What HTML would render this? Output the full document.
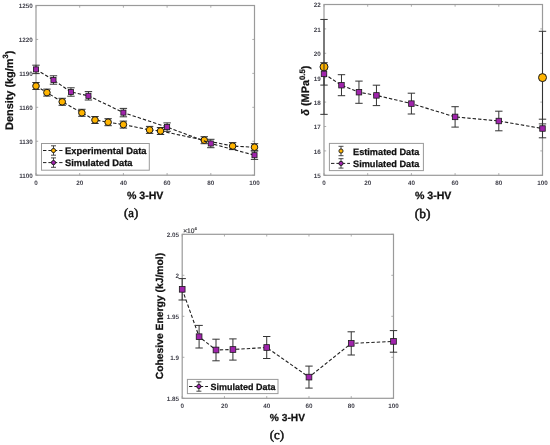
<!DOCTYPE html><html><head><meta charset="utf-8"><title>Figure</title><style>
html,body{margin:0;padding:0;background:#fff;}
svg{display:block;text-rendering:geometricPrecision;}
.tk{font-family:"Liberation Sans",Arial,sans-serif;font-size:6.3px;font-weight:bold;fill:#43434d;}
.lb{font-family:"Liberation Sans",Arial,sans-serif;font-weight:bold;font-size:10.6px;fill:#111;stroke:#111;stroke-width:0.25px;}
.lg{font-family:"Liberation Sans",Arial,sans-serif;font-weight:bold;fill:#111;stroke:#111;stroke-width:0.25px;}
.cap{font-family:"Liberation Serif","Times New Roman",serif;font-size:12.8px;fill:#111;stroke:#111;stroke-width:0.5px;}
</style></head><body>
<svg width="550" height="445" viewBox="0 0 550 445">
<rect width="550" height="445" fill="#fff"/>
<rect x="36" y="5.5" width="218.5" height="169.7" fill="none" stroke="#9a9a9a" stroke-width="1.2"/>
<line x1="36.00" y1="175.2" x2="36.00" y2="173.0" stroke="#9a9a9a" stroke-width="0.8"/>
<line x1="36.00" y1="5.5" x2="36.00" y2="7.7" stroke="#9a9a9a" stroke-width="0.8"/>
<text x="36.00" y="185.10" class="tk" text-anchor="middle">0</text>
<line x1="79.70" y1="175.2" x2="79.70" y2="173.0" stroke="#9a9a9a" stroke-width="0.8"/>
<line x1="79.70" y1="5.5" x2="79.70" y2="7.7" stroke="#9a9a9a" stroke-width="0.8"/>
<text x="79.70" y="185.10" class="tk" text-anchor="middle">20</text>
<line x1="123.40" y1="175.2" x2="123.40" y2="173.0" stroke="#9a9a9a" stroke-width="0.8"/>
<line x1="123.40" y1="5.5" x2="123.40" y2="7.7" stroke="#9a9a9a" stroke-width="0.8"/>
<text x="123.40" y="185.10" class="tk" text-anchor="middle">40</text>
<line x1="167.10" y1="175.2" x2="167.10" y2="173.0" stroke="#9a9a9a" stroke-width="0.8"/>
<line x1="167.10" y1="5.5" x2="167.10" y2="7.7" stroke="#9a9a9a" stroke-width="0.8"/>
<text x="167.10" y="185.10" class="tk" text-anchor="middle">60</text>
<line x1="210.80" y1="175.2" x2="210.80" y2="173.0" stroke="#9a9a9a" stroke-width="0.8"/>
<line x1="210.80" y1="5.5" x2="210.80" y2="7.7" stroke="#9a9a9a" stroke-width="0.8"/>
<text x="210.80" y="185.10" class="tk" text-anchor="middle">80</text>
<line x1="254.50" y1="175.2" x2="254.50" y2="173.0" stroke="#9a9a9a" stroke-width="0.8"/>
<line x1="254.50" y1="5.5" x2="254.50" y2="7.7" stroke="#9a9a9a" stroke-width="0.8"/>
<text x="254.50" y="185.10" class="tk" text-anchor="middle">100</text>
<line x1="36" y1="175.20" x2="38.2" y2="175.20" stroke="#9a9a9a" stroke-width="0.8"/>
<line x1="254.5" y1="175.20" x2="252.3" y2="175.20" stroke="#9a9a9a" stroke-width="0.8"/>
<text x="32.80" y="177.60" class="tk" text-anchor="end">1100</text>
<line x1="36" y1="141.26" x2="38.2" y2="141.26" stroke="#9a9a9a" stroke-width="0.8"/>
<line x1="254.5" y1="141.26" x2="252.3" y2="141.26" stroke="#9a9a9a" stroke-width="0.8"/>
<text x="32.80" y="143.66" class="tk" text-anchor="end">1130</text>
<line x1="36" y1="107.32" x2="38.2" y2="107.32" stroke="#9a9a9a" stroke-width="0.8"/>
<line x1="254.5" y1="107.32" x2="252.3" y2="107.32" stroke="#9a9a9a" stroke-width="0.8"/>
<text x="32.80" y="109.72" class="tk" text-anchor="end">1160</text>
<line x1="36" y1="73.38" x2="38.2" y2="73.38" stroke="#9a9a9a" stroke-width="0.8"/>
<line x1="254.5" y1="73.38" x2="252.3" y2="73.38" stroke="#9a9a9a" stroke-width="0.8"/>
<text x="32.80" y="75.78" class="tk" text-anchor="end">1190</text>
<line x1="36" y1="39.44" x2="38.2" y2="39.44" stroke="#9a9a9a" stroke-width="0.8"/>
<line x1="254.5" y1="39.44" x2="252.3" y2="39.44" stroke="#9a9a9a" stroke-width="0.8"/>
<text x="32.80" y="41.84" class="tk" text-anchor="end">1220</text>
<line x1="36" y1="5.50" x2="38.2" y2="5.50" stroke="#9a9a9a" stroke-width="0.8"/>
<line x1="254.5" y1="5.50" x2="252.3" y2="5.50" stroke="#9a9a9a" stroke-width="0.8"/>
<text x="32.80" y="7.90" class="tk" text-anchor="end">1250</text>
<path d="M36.00,86.00 L46.92,92.60 L62.22,101.80 L81.88,112.80 L95.00,120.00 L108.11,122.20 L123.40,124.60 L149.62,129.90 L160.54,131.00 L204.25,140.20 L232.65,146.10 L254.50,147.20" fill="none" stroke="#1e1e1e" stroke-width="1.1" stroke-dasharray="3.4 2"/>
<path d="M36.00,82.50V89.50M32.30,82.50H39.70M32.30,89.50H39.70" stroke="#333333" stroke-width="1.0" fill="none"/>
<path d="M46.92,89.10V96.10M43.22,89.10H50.62M43.22,96.10H50.62" stroke="#333333" stroke-width="1.0" fill="none"/>
<path d="M62.22,98.30V105.30M58.52,98.30H65.92M58.52,105.30H65.92" stroke="#333333" stroke-width="1.0" fill="none"/>
<path d="M81.88,109.30V116.30M78.18,109.30H85.58M78.18,116.30H85.58" stroke="#333333" stroke-width="1.0" fill="none"/>
<path d="M95.00,116.50V123.50M91.30,116.50H98.70M91.30,123.50H98.70" stroke="#333333" stroke-width="1.0" fill="none"/>
<path d="M108.11,118.70V125.70M104.41,118.70H111.81M104.41,125.70H111.81" stroke="#333333" stroke-width="1.0" fill="none"/>
<path d="M123.40,121.10V128.10M119.70,121.10H127.10M119.70,128.10H127.10" stroke="#333333" stroke-width="1.0" fill="none"/>
<path d="M149.62,126.40V133.40M145.92,126.40H153.32M145.92,133.40H153.32" stroke="#333333" stroke-width="1.0" fill="none"/>
<path d="M160.54,127.50V134.50M156.84,127.50H164.24M156.84,134.50H164.24" stroke="#333333" stroke-width="1.0" fill="none"/>
<path d="M204.25,136.70V143.70M200.55,136.70H207.94M200.55,143.70H207.94" stroke="#333333" stroke-width="1.0" fill="none"/>
<path d="M232.65,142.60V149.60M228.95,142.60H236.35M228.95,149.60H236.35" stroke="#333333" stroke-width="1.0" fill="none"/>
<path d="M254.50,143.70V150.70M250.80,143.70H258.20M250.80,150.70H258.20" stroke="#333333" stroke-width="1.0" fill="none"/>
<circle cx="36.00" cy="86.00" r="3.3" fill="#ffb400" stroke="#1a1a1a" stroke-width="1"/>
<circle cx="46.92" cy="92.60" r="3.3" fill="#ffb400" stroke="#1a1a1a" stroke-width="1"/>
<circle cx="62.22" cy="101.80" r="3.3" fill="#ffb400" stroke="#1a1a1a" stroke-width="1"/>
<circle cx="81.88" cy="112.80" r="3.3" fill="#ffb400" stroke="#1a1a1a" stroke-width="1"/>
<circle cx="95.00" cy="120.00" r="3.3" fill="#ffb400" stroke="#1a1a1a" stroke-width="1"/>
<circle cx="108.11" cy="122.20" r="3.3" fill="#ffb400" stroke="#1a1a1a" stroke-width="1"/>
<circle cx="123.40" cy="124.60" r="3.3" fill="#ffb400" stroke="#1a1a1a" stroke-width="1"/>
<circle cx="149.62" cy="129.90" r="3.3" fill="#ffb400" stroke="#1a1a1a" stroke-width="1"/>
<circle cx="160.54" cy="131.00" r="3.3" fill="#ffb400" stroke="#1a1a1a" stroke-width="1"/>
<circle cx="204.25" cy="140.20" r="3.3" fill="#ffb400" stroke="#1a1a1a" stroke-width="1"/>
<circle cx="232.65" cy="146.10" r="3.3" fill="#ffb400" stroke="#1a1a1a" stroke-width="1"/>
<circle cx="254.50" cy="147.20" r="3.3" fill="#ffb400" stroke="#1a1a1a" stroke-width="1"/>
<path d="M36.00,69.40 L53.48,80.00 L70.96,92.00 L88.44,95.80 L123.40,112.60 L167.10,127.10 L210.80,143.50 L254.50,155.20" fill="none" stroke="#1e1e1e" stroke-width="1.1" stroke-dasharray="3.4 2"/>
<path d="M36.00,65.20V73.60M32.30,65.20H39.70M32.30,73.60H39.70" stroke="#333333" stroke-width="1.0" fill="none"/>
<path d="M53.48,75.80V84.20M49.78,75.80H57.18M49.78,84.20H57.18" stroke="#333333" stroke-width="1.0" fill="none"/>
<path d="M70.96,87.80V96.20M67.26,87.80H74.66M67.26,96.20H74.66" stroke="#333333" stroke-width="1.0" fill="none"/>
<path d="M88.44,91.60V100.00M84.74,91.60H92.14M84.74,100.00H92.14" stroke="#333333" stroke-width="1.0" fill="none"/>
<path d="M123.40,108.40V116.80M119.70,108.40H127.10M119.70,116.80H127.10" stroke="#333333" stroke-width="1.0" fill="none"/>
<path d="M167.10,122.90V131.30M163.40,122.90H170.80M163.40,131.30H170.80" stroke="#333333" stroke-width="1.0" fill="none"/>
<path d="M210.80,139.30V147.70M207.10,139.30H214.50M207.10,147.70H214.50" stroke="#333333" stroke-width="1.0" fill="none"/>
<path d="M254.50,151.00V159.40M250.80,151.00H258.20M250.80,159.40H258.20" stroke="#333333" stroke-width="1.0" fill="none"/>
<rect x="33.45" y="66.85" width="5.1" height="5.1" fill="#a024ac" stroke="#1a1a1a" stroke-width="0.8"/>
<rect x="50.93" y="77.45" width="5.1" height="5.1" fill="#a024ac" stroke="#1a1a1a" stroke-width="0.8"/>
<rect x="68.41" y="89.45" width="5.1" height="5.1" fill="#a024ac" stroke="#1a1a1a" stroke-width="0.8"/>
<rect x="85.89" y="93.25" width="5.1" height="5.1" fill="#a024ac" stroke="#1a1a1a" stroke-width="0.8"/>
<rect x="120.85" y="110.05" width="5.1" height="5.1" fill="#a024ac" stroke="#1a1a1a" stroke-width="0.8"/>
<rect x="164.55" y="124.55" width="5.1" height="5.1" fill="#a024ac" stroke="#1a1a1a" stroke-width="0.8"/>
<rect x="208.25" y="140.95" width="5.1" height="5.1" fill="#a024ac" stroke="#1a1a1a" stroke-width="0.8"/>
<rect x="251.95" y="152.65" width="5.1" height="5.1" fill="#a024ac" stroke="#1a1a1a" stroke-width="0.8"/>
<rect x="41.5" y="143.5" width="107.8" height="26.7" fill="#fff" stroke="#9a9a9a" stroke-width="1"/>
<line x1="43" y1="150.5" x2="62.5" y2="150.5" stroke="#1e1e1e" stroke-width="1" stroke-dasharray="3.4 2"/>
<path d="M53.5,145.8V155.2M51.0,145.8H56.0M51.0,155.2H56.0" stroke="#333333" stroke-width="0.9" fill="none"/>
<circle cx="53.5" cy="150.5" r="2.1" fill="#ffb400" stroke="#1a1a1a" stroke-width="0.9"/>
<text x="65" y="154.2" class="lg" style="font-size:9.35px">Experimental Data</text>
<line x1="43" y1="162.6" x2="62.5" y2="162.6" stroke="#1e1e1e" stroke-width="1" stroke-dasharray="3.4 2"/>
<path d="M53.5,157.9V167.29999999999998M51.0,157.9H56.0M51.0,167.29999999999998H56.0" stroke="#333333" stroke-width="0.9" fill="none"/>
<circle cx="53.5" cy="162.6" r="2.1" fill="#a024ac" stroke="#1a1a1a" stroke-width="0.9"/>
<text x="65" y="166.29999999999998" class="lg" style="font-size:9.35px">Simulated Data</text>
<text x="145.2" y="198.8" class="lb" text-anchor="middle">% 3-HV</text>
<text transform="translate(13.1,90.3) rotate(-90)" class="lb" text-anchor="middle" style="font-size:10.9px">Density (kg/m<tspan dy="-5.2" style="font-size:7.6px">3</tspan><tspan dy="5.2">)</tspan></text>
<text x="131.2" y="216.5" class="cap" text-anchor="middle">(a)</text>
<rect x="324" y="4.5" width="218.5" height="170.8" fill="none" stroke="#9a9a9a" stroke-width="1.2"/>
<line x1="324.00" y1="175.3" x2="324.00" y2="173.10000000000002" stroke="#9a9a9a" stroke-width="0.8"/>
<line x1="324.00" y1="4.5" x2="324.00" y2="6.7" stroke="#9a9a9a" stroke-width="0.8"/>
<text x="324.00" y="185.20" class="tk" text-anchor="middle">0</text>
<line x1="367.70" y1="175.3" x2="367.70" y2="173.10000000000002" stroke="#9a9a9a" stroke-width="0.8"/>
<line x1="367.70" y1="4.5" x2="367.70" y2="6.7" stroke="#9a9a9a" stroke-width="0.8"/>
<text x="367.70" y="185.20" class="tk" text-anchor="middle">20</text>
<line x1="411.40" y1="175.3" x2="411.40" y2="173.10000000000002" stroke="#9a9a9a" stroke-width="0.8"/>
<line x1="411.40" y1="4.5" x2="411.40" y2="6.7" stroke="#9a9a9a" stroke-width="0.8"/>
<text x="411.40" y="185.20" class="tk" text-anchor="middle">40</text>
<line x1="455.10" y1="175.3" x2="455.10" y2="173.10000000000002" stroke="#9a9a9a" stroke-width="0.8"/>
<line x1="455.10" y1="4.5" x2="455.10" y2="6.7" stroke="#9a9a9a" stroke-width="0.8"/>
<text x="455.10" y="185.20" class="tk" text-anchor="middle">60</text>
<line x1="498.80" y1="175.3" x2="498.80" y2="173.10000000000002" stroke="#9a9a9a" stroke-width="0.8"/>
<line x1="498.80" y1="4.5" x2="498.80" y2="6.7" stroke="#9a9a9a" stroke-width="0.8"/>
<text x="498.80" y="185.20" class="tk" text-anchor="middle">80</text>
<line x1="542.50" y1="175.3" x2="542.50" y2="173.10000000000002" stroke="#9a9a9a" stroke-width="0.8"/>
<line x1="542.50" y1="4.5" x2="542.50" y2="6.7" stroke="#9a9a9a" stroke-width="0.8"/>
<text x="542.50" y="185.20" class="tk" text-anchor="middle">100</text>
<line x1="324" y1="175.30" x2="326.2" y2="175.30" stroke="#9a9a9a" stroke-width="0.8"/>
<line x1="542.5" y1="175.30" x2="540.3" y2="175.30" stroke="#9a9a9a" stroke-width="0.8"/>
<text x="320.80" y="178.20" class="tk" text-anchor="end">15</text>
<line x1="324" y1="150.90" x2="326.2" y2="150.90" stroke="#9a9a9a" stroke-width="0.8"/>
<line x1="542.5" y1="150.90" x2="540.3" y2="150.90" stroke="#9a9a9a" stroke-width="0.8"/>
<text x="320.80" y="153.80" class="tk" text-anchor="end">16</text>
<line x1="324" y1="126.50" x2="326.2" y2="126.50" stroke="#9a9a9a" stroke-width="0.8"/>
<line x1="542.5" y1="126.50" x2="540.3" y2="126.50" stroke="#9a9a9a" stroke-width="0.8"/>
<text x="320.80" y="129.40" class="tk" text-anchor="end">17</text>
<line x1="324" y1="102.10" x2="326.2" y2="102.10" stroke="#9a9a9a" stroke-width="0.8"/>
<line x1="542.5" y1="102.10" x2="540.3" y2="102.10" stroke="#9a9a9a" stroke-width="0.8"/>
<text x="320.80" y="105.00" class="tk" text-anchor="end">18</text>
<line x1="324" y1="77.70" x2="326.2" y2="77.70" stroke="#9a9a9a" stroke-width="0.8"/>
<line x1="542.5" y1="77.70" x2="540.3" y2="77.70" stroke="#9a9a9a" stroke-width="0.8"/>
<text x="320.80" y="80.60" class="tk" text-anchor="end">19</text>
<line x1="324" y1="53.30" x2="326.2" y2="53.30" stroke="#9a9a9a" stroke-width="0.8"/>
<line x1="542.5" y1="53.30" x2="540.3" y2="53.30" stroke="#9a9a9a" stroke-width="0.8"/>
<text x="320.80" y="56.20" class="tk" text-anchor="end">20</text>
<line x1="324" y1="28.90" x2="326.2" y2="28.90" stroke="#9a9a9a" stroke-width="0.8"/>
<line x1="542.5" y1="28.90" x2="540.3" y2="28.90" stroke="#9a9a9a" stroke-width="0.8"/>
<text x="320.80" y="31.80" class="tk" text-anchor="end">21</text>
<line x1="324" y1="4.50" x2="326.2" y2="4.50" stroke="#9a9a9a" stroke-width="0.8"/>
<line x1="542.5" y1="4.50" x2="540.3" y2="4.50" stroke="#9a9a9a" stroke-width="0.8"/>
<text x="320.80" y="7.40" class="tk" text-anchor="end">22</text>
<path d="M324.00,19.45V114.35M320.30,19.45H327.70M320.30,114.35H327.70" stroke="#333333" stroke-width="1.0" fill="none"/>
<path d="M542.50,31.30V123.90M538.80,31.30H546.20M538.80,123.90H546.20" stroke="#333333" stroke-width="1.0" fill="none"/>
<circle cx="324.00" cy="66.90" r="4.0" fill="#ffb400" stroke="#1a1a1a" stroke-width="1"/>
<circle cx="542.50" cy="77.60" r="4.0" fill="#ffb400" stroke="#1a1a1a" stroke-width="1"/>
<path d="M324.00,73.90 L341.48,85.20 L358.96,92.20 L376.44,95.40 L411.40,103.60 L455.10,116.90 L498.80,121.00 L542.50,128.50" fill="none" stroke="#1e1e1e" stroke-width="1.1" stroke-dasharray="3.4 2"/>
<path d="M324.00,62.70V85.10M320.30,62.70H327.70M320.30,85.10H327.70" stroke="#333333" stroke-width="1.0" fill="none"/>
<path d="M341.48,74.70V95.70M337.78,74.70H345.18M337.78,95.70H345.18" stroke="#333333" stroke-width="1.0" fill="none"/>
<path d="M358.96,81.10V103.30M355.26,81.10H362.66M355.26,103.30H362.66" stroke="#333333" stroke-width="1.0" fill="none"/>
<path d="M376.44,85.20V105.60M372.74,85.20H380.14M372.74,105.60H380.14" stroke="#333333" stroke-width="1.0" fill="none"/>
<path d="M411.40,93.20V114.00M407.70,93.20H415.10M407.70,114.00H415.10" stroke="#333333" stroke-width="1.0" fill="none"/>
<path d="M455.10,106.70V127.10M451.40,106.70H458.80M451.40,127.10H458.80" stroke="#333333" stroke-width="1.0" fill="none"/>
<path d="M498.80,111.20V130.80M495.10,111.20H502.50M495.10,130.80H502.50" stroke="#333333" stroke-width="1.0" fill="none"/>
<path d="M542.50,119.20V137.80M538.80,119.20H546.20M538.80,137.80H546.20" stroke="#333333" stroke-width="1.0" fill="none"/>
<rect x="321.25" y="71.15" width="5.5" height="5.5" fill="#a024ac" stroke="#1a1a1a" stroke-width="0.8"/>
<rect x="338.73" y="82.45" width="5.5" height="5.5" fill="#a024ac" stroke="#1a1a1a" stroke-width="0.8"/>
<rect x="356.21" y="89.45" width="5.5" height="5.5" fill="#a024ac" stroke="#1a1a1a" stroke-width="0.8"/>
<rect x="373.69" y="92.65" width="5.5" height="5.5" fill="#a024ac" stroke="#1a1a1a" stroke-width="0.8"/>
<rect x="408.65" y="100.85" width="5.5" height="5.5" fill="#a024ac" stroke="#1a1a1a" stroke-width="0.8"/>
<rect x="452.35" y="114.15" width="5.5" height="5.5" fill="#a024ac" stroke="#1a1a1a" stroke-width="0.8"/>
<rect x="496.05" y="118.25" width="5.5" height="5.5" fill="#a024ac" stroke="#1a1a1a" stroke-width="0.8"/>
<rect x="539.75" y="125.75" width="5.5" height="5.5" fill="#a024ac" stroke="#1a1a1a" stroke-width="0.8"/>
<rect x="329.4" y="143.4" width="94" height="27.2" fill="#fff" stroke="#9a9a9a" stroke-width="1"/>
<path d="M341,146.3V155.7M338.5,146.3H343.5M338.5,155.7H343.5" stroke="#333333" stroke-width="0.9" fill="none"/>
<circle cx="341" cy="151" r="2.1" fill="#ffb400" stroke="#1a1a1a" stroke-width="0.9"/>
<text x="353" y="154.7" class="lg" style="font-size:9.2px">Estimated Data</text>
<line x1="331" y1="163.4" x2="350" y2="163.4" stroke="#1e1e1e" stroke-width="1" stroke-dasharray="3.4 2"/>
<path d="M341,158.70000000000002V168.1M338.5,158.70000000000002H343.5M338.5,168.1H343.5" stroke="#333333" stroke-width="0.9" fill="none"/>
<circle cx="341" cy="163.4" r="2.1" fill="#a024ac" stroke="#1a1a1a" stroke-width="0.9"/>
<text x="353" y="167.1" class="lg" style="font-size:9.2px">Simulated Data</text>
<text x="433.2" y="199.3" class="lb" text-anchor="middle">% 3-HV</text>
<text transform="translate(309.2,90.6) rotate(-90)" class="lb" text-anchor="middle" style="font-size:10.9px"><tspan style="font-style:italic">δ</tspan> (MPa<tspan dy="-4.6" style="font-size:7.8px">0.5</tspan><tspan dy="4.6">)</tspan></text>
<text x="422.6" y="217.9" class="cap" text-anchor="middle" style="font-size:13.4px">(b)</text>
<rect x="182.2" y="234.3" width="211.3" height="164.0" fill="none" stroke="#9a9a9a" stroke-width="1.2"/>
<line x1="182.20" y1="398.3" x2="182.20" y2="396.1" stroke="#9a9a9a" stroke-width="0.8"/>
<line x1="182.20" y1="234.3" x2="182.20" y2="236.5" stroke="#9a9a9a" stroke-width="0.8"/>
<text x="182.20" y="408.20" class="tk" text-anchor="middle">0</text>
<line x1="224.46" y1="398.3" x2="224.46" y2="396.1" stroke="#9a9a9a" stroke-width="0.8"/>
<line x1="224.46" y1="234.3" x2="224.46" y2="236.5" stroke="#9a9a9a" stroke-width="0.8"/>
<text x="224.46" y="408.20" class="tk" text-anchor="middle">20</text>
<line x1="266.72" y1="398.3" x2="266.72" y2="396.1" stroke="#9a9a9a" stroke-width="0.8"/>
<line x1="266.72" y1="234.3" x2="266.72" y2="236.5" stroke="#9a9a9a" stroke-width="0.8"/>
<text x="266.72" y="408.20" class="tk" text-anchor="middle">40</text>
<line x1="308.98" y1="398.3" x2="308.98" y2="396.1" stroke="#9a9a9a" stroke-width="0.8"/>
<line x1="308.98" y1="234.3" x2="308.98" y2="236.5" stroke="#9a9a9a" stroke-width="0.8"/>
<text x="308.98" y="408.20" class="tk" text-anchor="middle">60</text>
<line x1="351.24" y1="398.3" x2="351.24" y2="396.1" stroke="#9a9a9a" stroke-width="0.8"/>
<line x1="351.24" y1="234.3" x2="351.24" y2="236.5" stroke="#9a9a9a" stroke-width="0.8"/>
<text x="351.24" y="408.20" class="tk" text-anchor="middle">80</text>
<line x1="393.50" y1="398.3" x2="393.50" y2="396.1" stroke="#9a9a9a" stroke-width="0.8"/>
<line x1="393.50" y1="234.3" x2="393.50" y2="236.5" stroke="#9a9a9a" stroke-width="0.8"/>
<text x="393.50" y="408.20" class="tk" text-anchor="middle">100</text>
<line x1="182.2" y1="398.30" x2="184.39999999999998" y2="398.30" stroke="#9a9a9a" stroke-width="0.8"/>
<line x1="393.5" y1="398.30" x2="391.3" y2="398.30" stroke="#9a9a9a" stroke-width="0.8"/>
<text x="179.00" y="401.10" class="tk" text-anchor="end">1.85</text>
<line x1="182.2" y1="357.30" x2="184.39999999999998" y2="357.30" stroke="#9a9a9a" stroke-width="0.8"/>
<line x1="393.5" y1="357.30" x2="391.3" y2="357.30" stroke="#9a9a9a" stroke-width="0.8"/>
<text x="179.00" y="360.10" class="tk" text-anchor="end">1.9</text>
<line x1="182.2" y1="316.30" x2="184.39999999999998" y2="316.30" stroke="#9a9a9a" stroke-width="0.8"/>
<line x1="393.5" y1="316.30" x2="391.3" y2="316.30" stroke="#9a9a9a" stroke-width="0.8"/>
<text x="179.00" y="319.10" class="tk" text-anchor="end">1.95</text>
<line x1="182.2" y1="275.30" x2="184.39999999999998" y2="275.30" stroke="#9a9a9a" stroke-width="0.8"/>
<line x1="393.5" y1="275.30" x2="391.3" y2="275.30" stroke="#9a9a9a" stroke-width="0.8"/>
<text x="179.00" y="278.10" class="tk" text-anchor="end">2</text>
<line x1="182.2" y1="234.30" x2="184.39999999999998" y2="234.30" stroke="#9a9a9a" stroke-width="0.8"/>
<line x1="393.5" y1="234.30" x2="391.3" y2="234.30" stroke="#9a9a9a" stroke-width="0.8"/>
<text x="179.00" y="237.10" class="tk" text-anchor="end">2.05</text>
<path d="M182.20,289.30 L199.10,336.70 L216.01,350.00 L232.91,349.50 L266.72,347.50 L308.98,377.10 L351.24,343.40 L393.50,341.40" fill="none" stroke="#1e1e1e" stroke-width="1.1" stroke-dasharray="3.4 2"/>
<path d="M182.20,278.60V300.00M178.50,278.60H185.90M178.50,300.00H185.90" stroke="#333333" stroke-width="1.0" fill="none"/>
<path d="M199.10,325.40V348.00M195.40,325.40H202.80M195.40,348.00H202.80" stroke="#333333" stroke-width="1.0" fill="none"/>
<path d="M216.01,339.20V360.80M212.31,339.20H219.71M212.31,360.80H219.71" stroke="#333333" stroke-width="1.0" fill="none"/>
<path d="M232.91,338.90V360.10M229.21,338.90H236.61M229.21,360.10H236.61" stroke="#333333" stroke-width="1.0" fill="none"/>
<path d="M266.72,336.50V358.50M263.02,336.50H270.42M263.02,358.50H270.42" stroke="#333333" stroke-width="1.0" fill="none"/>
<path d="M308.98,366.10V388.10M305.28,366.10H312.68M305.28,388.10H312.68" stroke="#333333" stroke-width="1.0" fill="none"/>
<path d="M351.24,331.80V355.00M347.54,331.80H354.94M347.54,355.00H354.94" stroke="#333333" stroke-width="1.0" fill="none"/>
<path d="M393.50,330.60V352.20M389.80,330.60H397.20M389.80,352.20H397.20" stroke="#333333" stroke-width="1.0" fill="none"/>
<rect x="179.35" y="286.45" width="5.7" height="5.7" fill="#a024ac" stroke="#1a1a1a" stroke-width="0.8"/>
<rect x="196.25" y="333.85" width="5.7" height="5.7" fill="#a024ac" stroke="#1a1a1a" stroke-width="0.8"/>
<rect x="213.16" y="347.15" width="5.7" height="5.7" fill="#a024ac" stroke="#1a1a1a" stroke-width="0.8"/>
<rect x="230.06" y="346.65" width="5.7" height="5.7" fill="#a024ac" stroke="#1a1a1a" stroke-width="0.8"/>
<rect x="263.87" y="344.65" width="5.7" height="5.7" fill="#a024ac" stroke="#1a1a1a" stroke-width="0.8"/>
<rect x="306.13" y="374.25" width="5.7" height="5.7" fill="#a024ac" stroke="#1a1a1a" stroke-width="0.8"/>
<rect x="348.39" y="340.55" width="5.7" height="5.7" fill="#a024ac" stroke="#1a1a1a" stroke-width="0.8"/>
<rect x="390.65" y="338.55" width="5.7" height="5.7" fill="#a024ac" stroke="#1a1a1a" stroke-width="0.8"/>
<text x="183.2" y="232.8" class="tk" style="font-weight:normal;font-size:6.6px;stroke:#333;stroke-width:0.2px">×10<tspan dy="-2.4" style="font-size:4.2px">4</tspan></text>
<rect x="187.4" y="379.4" width="90.6" height="14.2" fill="#fff" stroke="#9a9a9a" stroke-width="1"/>
<line x1="189" y1="386.5" x2="208" y2="386.5" stroke="#1e1e1e" stroke-width="1" stroke-dasharray="3.4 2"/>
<path d="M198.9,381.8V391.2M196.4,381.8H201.4M196.4,391.2H201.4" stroke="#333333" stroke-width="0.9" fill="none"/>
<circle cx="198.9" cy="386.5" r="2.1" fill="#a024ac" stroke="#1a1a1a" stroke-width="0.9"/>
<text x="210.6" y="390.2" class="lg" style="font-size:8.97px">Simulated Data</text>
<text x="287.4" y="421.4" class="lb" text-anchor="middle" style="font-size:10.2px">% 3-HV</text>
<text transform="translate(162.9,316.1) rotate(-90)" class="lb" text-anchor="middle" style="font-size:10.35px">Cohesive Energy (kJ/mol)</text>
<text x="276.8" y="438.8" class="cap" text-anchor="middle">(c)</text>
</svg></body></html>
